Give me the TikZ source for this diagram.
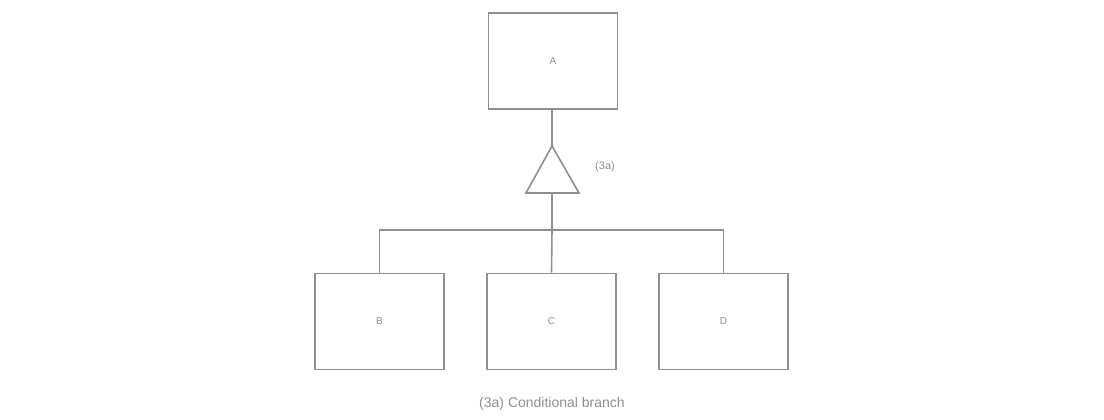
\documentclass[tikz,border=0pt]{standalone}
\usepackage{fontspec}
\setmainfont{Liberation Sans}
\begin{document}
\begin{tikzpicture}[x=1pt,y=-1pt,
  ln/.style={draw=gc,line width=1.6pt},
  bx/.style={ln,minimum width=129pt,minimum height=96pt,inner sep=0pt,text=gc,font=\fontsize{10}{12}\selectfont}]
\definecolor{gc}{HTML}{8C8E90}
\useasboundingbox (0,0) rectangle (1104,420);
\node[bx] (A) at (553,61) {A};
\node[bx] (B) at (379.5,321.5) {B};
\node[bx] (C) at (551.5,321.5) {C};
\node[bx] (D) at (723.5,321.5) {D};
\coordinate (ap) at (552,146);
\coordinate (bl) at (526,193);
\coordinate (br) at (579,193);
\coordinate (bm) at (552,193);
\coordinate (j) at (552,230);
\draw[ln,line join=miter] (ap) -- (bl) -- (br) -- cycle;
\draw[ln] (A.south -| ap) -- (ap);
\draw[ln] (bm) -- (j);
\draw[ln] (B.north) |- (j) -| (D.north);
\draw[ln] (j) -- (C.north);
\node[text=gc,font=\fontsize{11}{13}\selectfont] (l) at (605,167) {(3a)};
\node[text=gc,font=\fontsize{14}{16}\selectfont] (cap) at (552,404) {(3a) Conditional branch};
\end{tikzpicture}
\end{document}
